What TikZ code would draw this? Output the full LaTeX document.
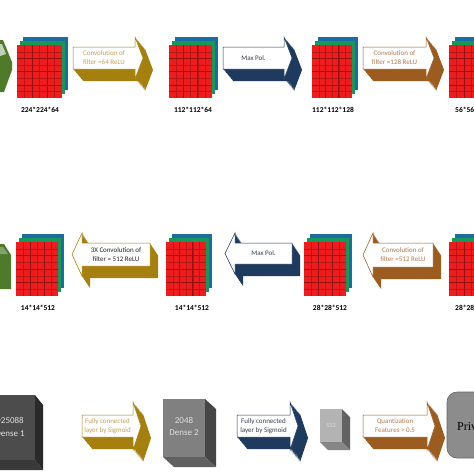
\documentclass[tikz,border=0pt]{standalone}
\usepackage{fontspec}
\setmainfont{Carlito}
\newfontfamily\serifone{Liberation Serif}
\definecolor{cgold}{HTML}{A5800E}
\definecolor{cnavy}{HTML}{1F3A5F}
\definecolor{cbrown}{HTML}{9C5B1F}
\definecolor{cgreen}{HTML}{4E7A2A}
\definecolor{cred}{HTML}{EE1C1C}
\definecolor{cteal}{HTML}{17985A}
\definecolor{cblue}{HTML}{1B6DA0}
\definecolor{cgoldtxt}{HTML}{BFA258}
\definecolor{cbrowntxt}{HTML}{B07A52}
\definecolor{cnavytxt}{HTML}{3A3F4E}
\definecolor{cdk}{HTML}{4C4C4C}
\definecolor{cmd}{HTML}{808080}
\definecolor{clt}{HTML}{B3B3B3}
\tikzset{
  gthin/.style={draw=cred!78!black, line width=0.2pt},
  gthick/.style={draw=cred!62!black, line width=0.5pt},
  atxt/.style={align=center, inner sep=0pt, font=\fontsize{7}{9}\selectfont},
  lbl/.style={inner sep=0pt, font=\bfseries\fontsize{7.5}{9}\selectfont},
  dtxt/.style={inner sep=0pt, text=white!88!black, font=\fontsize{9}{11}\selectfont},
}
\newcommand\FMap[5]{%
  \fill[cblue] (#2+6,#3-8) rectangle ++(#4,#5);
  \fill[cteal] (#2+3,#3-4) rectangle ++(#4,#5);
  \fill[cred] (#2,#3) rectangle ++(#4,#5);
  \foreach \i in {1,...,5} \draw[gthin] ({#2+\i*#4/6},#3) -- ++(0,#5);
  \foreach \i in {1,...,7} \draw[gthin] (#2,{#3+\i*#5/8}) -- ++(#4,0);
  \foreach \i in {1,2} \draw[gthick] ({#2+\i*#4/3},#3) -- ++(0,#5);
  \foreach \i in {1,2,3} \draw[gthick] (#2,{#3+\i*#5/4}) -- ++(#4,0);
  \coordinate (#1) at (#2,#3);
}
% right arrow: name, xL, xR, yT, yB, colour, text colour, text
\newcommand\RArrow[8]{%
  \pgfmathsetmacro\yM{(#4+#5)/2}
  \foreach \k in {0,...,16}{
    \fill[#6, shift={({\k*\edx/16},{\k*\edy/16})}] (#2,#4) -- (#3,#4) -- (#3,#4-\hE) -- (#3+\hT,\yM) -- (#3,#5+\hE) -- (#3,#5) -- (#2,#5) -- cycle;}
  \filldraw[fill=white, draw=#6, line width=0.5pt] (#2,#4) -- (#3,#4) -- (#3,#4-\hE) -- (#3+\hT,\yM) -- (#3,#5+\hE) -- (#3,#5) -- (#2,#5) -- cycle;
  \node[atxt, text=#7] (#1) at ({(#2+#3)/2},\yM) {#8};
}
% left arrow: name, xHead, xR, yT, yB, colour, text colour, text
\newcommand\LArrow[8]{%
  \pgfmathsetmacro\yM{(#4+#5)/2}
  \foreach \k in {0,...,16}{
    \fill[#6, shift={({\k*\edx/16},{\k*\edy/16})}] (#3,#4) -- (#2,#4) -- (#2,#4-\hE) -- (#2-\hT,\yM) -- (#2,#5+\hE) -- (#2,#5) -- (#3,#5) -- cycle;}
  \filldraw[fill=white, draw=#6, line width=0.5pt] (#3,#4) -- (#2,#4) -- (#2,#4-\hE) -- (#2-\hT,\yM) -- (#2,#5+\hE) -- (#2,#5) -- (#3,#5) -- cycle;
  \node[atxt, text=#7] (#1) at ({(#2+#3)/2},\yM) {#8};
}
% cube box: name, x1, y1, x2, y2, dx, dy, front colour (named)
\newcommand\CubeBox[8]{%
  \fill[#8!55!black] (#4,#3) -- (#4+#6,#3+#7) -- (#4+#6,#5+#7) -- (#4,#5) -- cycle;
  \fill[#8!75!black] (#2,#5) -- (#4,#5) -- (#4+#6,#5+#7) -- (#2+#6,#5+#7) -- cycle;
  \fill[#8] (#2,#3) rectangle (#4,#5);
  \coordinate (#1) at (#2,#3);
}
\begin{document}
\begin{tikzpicture}[x=1pt,y=-1pt]
\useasboundingbox (0,0) rectangle (474,474);
\clip (0,0) rectangle (474,474);
\fill[white] (0,0) rectangle (474,474);

% ---------- row 1 ----------
\fill[cgreen] (0,40) -- (3,40) -- (12,62) -- (12,70) -- (4,92) -- (0,92) -- cycle;
\fill[cgreen!35!white] (0,44) -- (2,44) -- (6,54) -- (0,56) -- cycle;
\FMap{m1}{17}{45}{45}{53}
\FMap{m2}{169}{45}{43}{53}
\FMap{m3}{312}{45}{40}{53}
\FMap{m4}{449}{45}{45}{53}
\node[lbl] (l1) at (40,110) {224*224*64};
\node[lbl] (l2) at (193,110) {112*112*64};
\node[lbl] (l3) at (333,110) {112*112*128};
\node[lbl, anchor=west] (l4) at (455,110) {56*56*256};
\def\edx{10}\def\edy{12}\def\hE{10}\def\hT{8}
\RArrow{a1}{73}{135}{47}{69}{cgold}{cgoldtxt}{Convolution of\\filter =64 ReLU}
\RArrow{a2}{223}{284}{47}{69}{cnavy}{cnavytxt}{Max Pol.}
\RArrow{a3}{363}{426}{47}{69}{cbrown}{cbrowntxt}{Convolution of\\filter =128 ReLU}

% ---------- row 2 ----------
\fill[cgreen] (0,244) -- (4,244) -- (11,255) -- (11,289) -- (0,289) -- cycle;
\fill[cgreen!70!white] (0,247) -- (3,247) -- (8,254) -- (0,254) -- cycle;
\FMap{n1}{16}{242}{42}{54}
\FMap{n2}{166}{242}{40}{54}
\FMap{n3}{304}{242}{42}{54}
\FMap{n4}{449}{242}{45}{54}
\node[lbl] (k1) at (38,308) {14*14*512};
\node[lbl] (k2) at (192,308) {14*14*512};
\node[lbl] (k3) at (330,308) {28*28*512};
\node[lbl, anchor=west] (k4) at (455,308) {28*28*512};
\def\edx{8}\def\edy{12}\def\hE{10}\def\hT{10}
\LArrow{b1}{82}{150}{243}{266}{cgold}{black!85}{3X Convolution of\\filter = 512 ReLU}
\LArrow{b2}{235}{292}{243}{264}{cnavy}{cnavytxt}{Max Pol.}
\LArrow{b3}{373}{433}{243}{267}{cbrown}{cbrowntxt}{Convolution of\\filter =512 ReLU}

% ---------- row 3 ----------
\CubeBox{d1}{-25}{395}{35}{460}{8}{10}{cdk}
\node[dtxt, anchor=east] (d1a) at (24,420) {=25088};
\node[dtxt, anchor=east] (d1b) at (25,434) {Dense 1};
\CubeBox{d2}{163}{399}{205}{457}{11}{10}{cmd}
\node[dtxt] (d2a) at (184,420) {2048};
\node[dtxt] (d2b) at (184,433) {Dense 2};
\CubeBox{d3}{320}{409}{342}{442}{8}{8}{clt}
\node[dtxt, font=\fontsize{6}{7}\selectfont] (d3a) at (331,426) {512};
\def\edx{10}\def\edy{12}\def\hE{13}\def\hT{8}
\RArrow{c1}{82}{133}{415}{437}{cgold}{cgoldtxt}{Fully connected\\layer by Sigmoid}
\RArrow{c2}{237}{290}{415}{437}{cnavy}{cnavytxt}{Fully connected\\layer by Sigmoid}
\RArrow{c3}{363}{427}{415}{437}{cbrown}{cbrowntxt}{Quantization\\Features > 0.5}
\filldraw[fill=black!45, draw=black!60, line width=0.6pt, rounded corners=10pt] (447,392) rectangle (530,458);
\node[anchor=west, inner sep=0pt, font=\serifone\fontsize{12}{14}\selectfont] (pk) at (457,427) {Private};
\end{tikzpicture}
\end{document}
